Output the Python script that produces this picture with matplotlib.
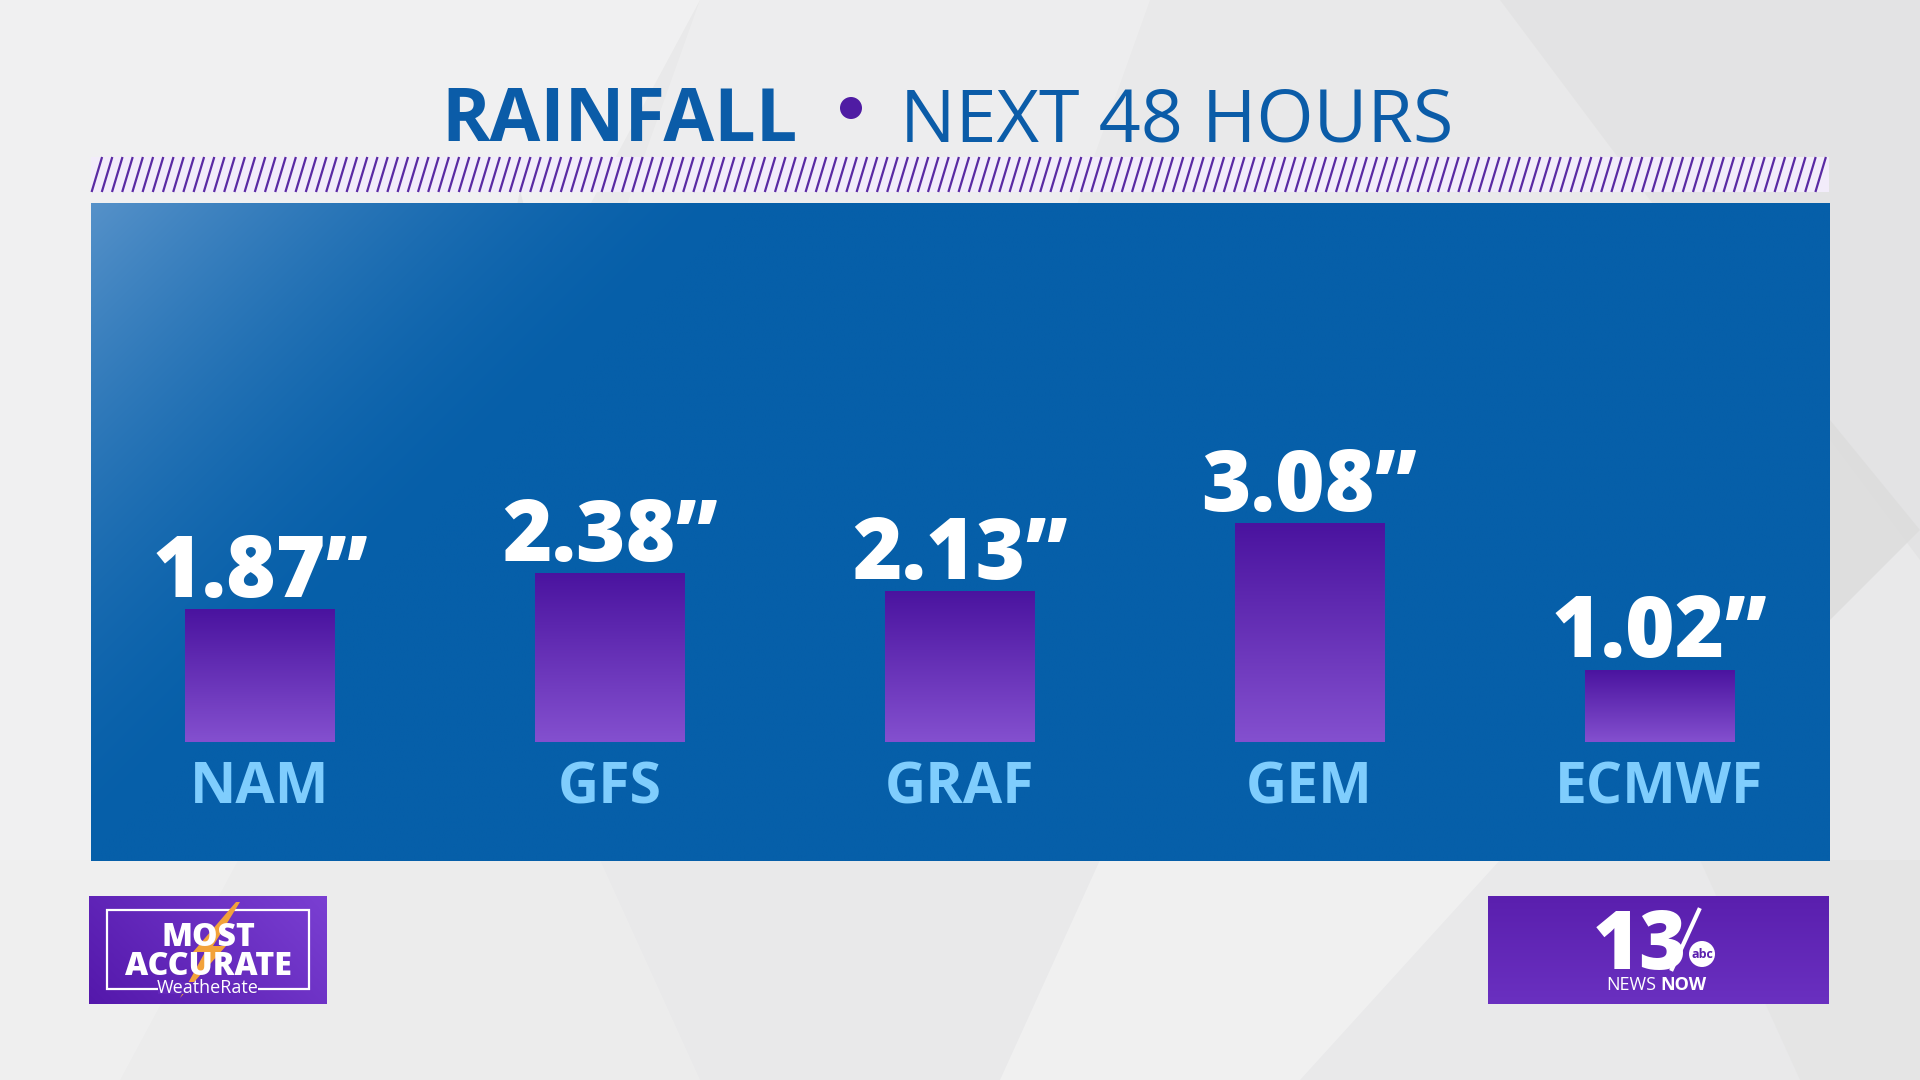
import matplotlib.pyplot as plt
import numpy as np
from matplotlib.colors import LinearSegmentedColormap, to_rgb
from matplotlib.collections import LineCollection
from matplotlib.patches import Rectangle, Polygon, Circle

# chart data
models = ["NAM", "GFS", "GRAF", "GEM", "ECMWF"]
rain_inches = [1.87, 2.38, 2.13, 3.08, 1.02]
title_left = "RAINFALL"
title_right = "NEXT 48 HOURS"

FONT = ["Open Sans", "DejaVu Sans"]
plt.rcParams["font.family"] = FONT

W, H = 1920, 1080
fig = plt.figure(figsize=(19.2, 10.8), dpi=100)
fig.patch.set_facecolor("#e9e9ea")

# background axes in pixel coordinates
bg = fig.add_axes([0, 0, 1, 1], zorder=0)
bg.set_xlim(0, W)
bg.set_ylim(H, 0)
bg.axis("off")

# soft diagonal panes in the backdrop
panes = [
    ([(0, 0), (700, 0), (120, 1080), (0, 1080)], "#f4f4f4", 0.7),
    ([(700, 0), (1150, 0), (900, 700), (450, 700)], "#f1f1f1", 0.6),
    ([(520, 190), (650, 700), (420, 700)], "#dedede", 0.5),
    ([(1500, 0), (1920, 0), (1920, 560)], "#e0e0e0", 0.6),
    ([(1830, 420), (1920, 530), (1830, 620)], "#dcdcdc", 0.8),
    ([(0, 860), (600, 860), (700, 1080), (0, 1080)], "#efefef", 0.6),
    ([(1100, 860), (1500, 860), (1300, 1080), (1000, 1080)], "#f5f5f5", 0.6),
    ([(1700, 860), (1920, 860), (1920, 1080), (1800, 1080)], "#e3e3e3", 0.6),
]
for pts, c, a in panes:
    bg.add_patch(Polygon(pts, closed=True, facecolor=c, edgecolor="none", alpha=a, zorder=0))

# title
title_blue = "#0b5ca8"
bg.text(798, 141, title_left, ha="right", va="baseline", fontsize=53,
        fontweight="bold", color=title_blue, zorder=3)
bg.add_patch(Circle((851, 108), 11, facecolor="#4f1ca3", edgecolor="none", zorder=3))
bg.text(900, 141, title_right, ha="left", va="baseline", fontsize=53,
        fontweight="normal", color=title_blue, zorder=3)

# hatched band
px0, px1 = 90.6, 1829
band_top, band_bot = 157, 192
bg.add_patch(Rectangle((px0, band_top), px1 - px0, band_bot - band_top,
                       facecolor="#f2ecfa", edgecolor="none", zorder=1))
segs = []
slant = 10.5
x = px0 + 1
while x + slant < px1:
    segs.append([(x, band_bot), (x + slant, band_top)])
    x += 10.2
bg.add_collection(LineCollection(segs, colors="#5a2aa3", linewidths=1.6, zorder=2))

# blue panel with lighter top-left corner
py0, py1 = 203, 861
gx, gy = np.meshgrid(np.linspace(0, 1, 400), np.linspace(0, 1, 160))
dist = gx * (px1 - px0) + gy * (py1 - py0)
t = np.clip(1 - dist / 650, 0, 1) ** 1.6
base = np.array(to_rgb("#065fa9"))
light = np.array(to_rgb("#5591c9"))
img = base + t[..., None] * (light - base)
bg.imshow(img, extent=(px0, px1, py1, py0), aspect="auto", zorder=1,
          interpolation="bilinear")
bg.set_xlim(0, W)
bg.set_ylim(H, 0)

# bar chart axes aligned with the panel
ax = fig.add_axes([px0 / W, 1 - py1 / H, (px1 - px0) / W, (py1 - py0) / H], zorder=2)
ax.set_facecolor("none")
ax.axis("off")
ax.set_xlim(-0.484, 4.486)
ax.set_ylim(-1.676, 7.59)

bar_cmap = LinearSegmentedColormap.from_list("bar", ["#8450cf", "#4a139f"])
xpos = np.arange(len(models))
bars = ax.bar(xpos, rain_inches, width=0.426, color="none", edgecolor="none")
grad = np.linspace(0, 1, 256)[:, None]
for b in bars:
    x0, w, h = b.get_x(), b.get_width(), b.get_height()
    im = ax.imshow(grad, cmap=bar_cmap, origin="lower", aspect="auto",
                   extent=(x0, x0 + w, 0, h), zorder=2)
    im.set_clip_path(b)
ax.set_xlim(-0.484, 4.486)
ax.set_ylim(-1.676, 7.59)

for xi, v, name in zip(xpos, rain_inches, models):
    ax.text(xi, v + 0.17, f"{v:.2f}\u201d", ha="center", va="baseline",
            fontsize=61, fontweight="heavy", color="white", zorder=3)
    ax.text(xi, -0.86, name, ha="center", va="baseline", fontsize=41,
            fontweight="bold", color="#7fcdfd", zorder=3)

# left logo: Most Accurate WeatheRate
logo_cmap = LinearSegmentedColormap.from_list("logo", ["#5418ab", "#7a3fd2"])
lg = np.linspace(0, 1, 200)[None, :] * 0.7 + np.linspace(0, 1, 100)[:, None] * 0.3
bg.imshow(lg[::-1], cmap=logo_cmap, extent=(89, 327, 1004, 896), aspect="auto", zorder=2)
bg.add_patch(Rectangle((107, 910), 202, 79, facecolor="none", edgecolor="white",
                       linewidth=1.6, zorder=3))
bolt = [(240, 902), (213, 946), (226, 946), (180, 998), (205, 952), (193, 952), (236, 902)]
bg.add_patch(Polygon(bolt, closed=True, facecolor="#f2a23a", edgecolor="none", zorder=3))
bg.text(208, 946, "MOST", ha="center", va="baseline", fontsize=23,
        fontweight="heavy", color="white", zorder=4)
bg.text(208, 975, "ACCURATE", ha="center", va="baseline", fontsize=23,
        fontweight="heavy", color="white", zorder=4)
bg.add_patch(Rectangle((158, 982), 100, 12, facecolor="#6428bb", edgecolor="none", zorder=3))
bg.text(208, 993, "WeatheRate", ha="center", va="baseline", fontsize=13,
        color="white", zorder=4)

# right logo: 13 abc NewsNow
rg = np.linspace(0, 1, 100)[:, None] * np.ones((1, 200))
bg.imshow(rg, cmap=LinearSegmentedColormap.from_list("r", ["#5a1fae", "#6a30c0"]),
          extent=(1488, 1829, 1004, 896), aspect="auto", zorder=2)
bg.text(1640, 969, "13", ha="center", va="baseline", fontsize=58,
        fontweight="heavy", color="white", zorder=4)
bg.plot([1699, 1672], [910, 969], color="white", linewidth=3, zorder=4)
bg.add_patch(Circle((1702, 954), 13, facecolor="white", edgecolor="none", zorder=4))
bg.text(1702, 954, "abc", ha="center", va="center", fontsize=9,
        fontweight="bold", color="#5a1fae", zorder=5)
bg.text(1656, 990, "NEWS", ha="right", va="baseline", fontsize=13,
        color="white", zorder=4)
bg.text(1660, 990, "NOW", ha="left", va="baseline", fontsize=13,
        fontweight="bold", color="white", zorder=4)

fig.savefig("out.png", dpi=100)
